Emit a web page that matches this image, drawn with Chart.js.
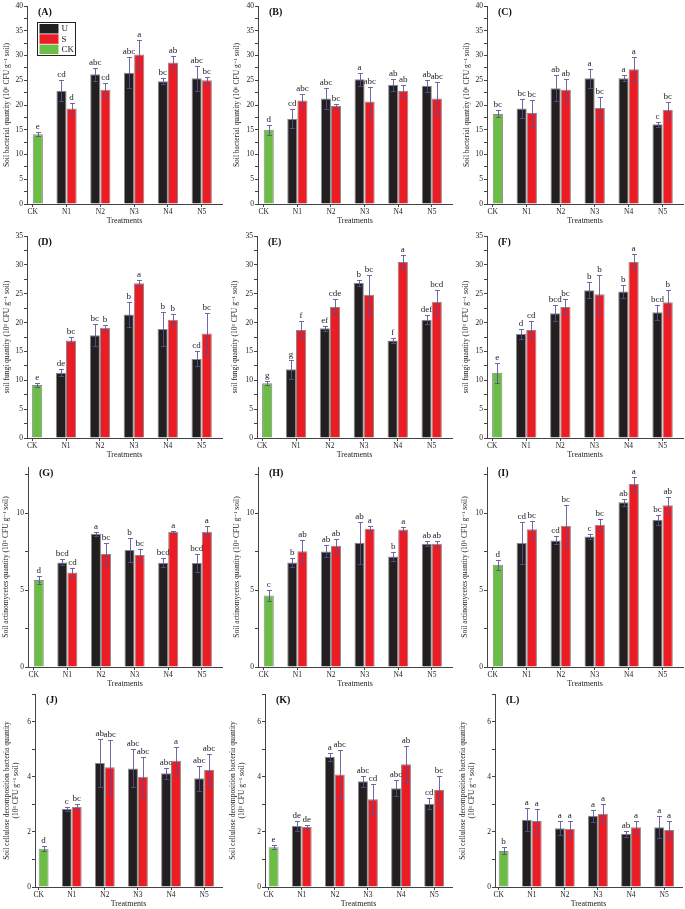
<!DOCTYPE html>
<html>
<head>
<meta charset="utf-8">
<script src="https://cdn.jsdelivr.net/npm/chart.js@4.4.0/dist/chart.umd.min.js"></script>
<style>
  body { margin: 0; background: #fff; width: 685px; height: 909px; position: relative; overflow: hidden; }
  canvas { position: absolute; }
</style>
</head>
<body>
<script>
const categories = ['CK', 'N1', 'N2', 'N3', 'N4', 'N5'];

// CK values for panels A..L
const ckValues  = [14.1, 15.0, 18.2, 9.2, 9.5, 11.3, 5.66, 4.65, 6.65, 1.39, 1.44, 1.31];
const ckErrors  = [0.4, 1.0, 0.7, 0.35, 0.4, 1.7, 0.28, 0.37, 0.33, 0.1, 0.07, 0.13];
const ckLetters = ['e', 'd', 'bc', 'e', 'g', 'e', 'd', 'c', 'd', 'd', 'e', 'b'];

// bacteria
const uA = [22.9, 26.2, 26.5, 24.8, 25.4], uAErr = [2.1, 1.3, 3.1, 0.6, 2.5], uALet = ['cd', 'abc', 'abc', 'bc', 'abc'];
const sA = [19.3, 23.1, 30.2, 28.6, 25.0], sAErr = [1.2, 1.3, 2.9, 1.2, 0.7], sALet = ['d', 'cd', 'a', 'ab', 'bc'];
const uB = [17.2, 21.3, 25.2, 24.1, 23.9], uBErr = [1.9, 2.1, 1.3, 1.2, 1.2], uBLet = ['cd', 'abc', 'a', 'ab', 'ab'];
const sB = [20.9, 19.8, 20.7, 22.9, 21.3], sBErr = [1.4, 0.5, 3.0, 1.2, 3.3], sBLet = ['abc', 'bc', 'abc', 'ab', 'abc'];
const uC = [19.3, 23.4, 25.4, 25.4, 16.1], uCErr = [1.9, 2.6, 1.9, 0.6, 0.5], uCLet = ['bc', 'ab', 'a', 'a', 'c'];
const sC = [18.4, 23.1, 19.4, 27.2, 19.0], sCErr = [2.6, 2.1, 2.2, 2.4, 1.6], sCLet = ['bc', 'ab', 'bc', 'a', 'bc'];
// fungi
const uD = [11.3, 17.8, 21.4, 18.9, 13.7], uDErr = [0.6, 1.9, 2.1, 3.0, 1.3], uDLet = ['de', 'bc', 'b', 'b', 'cd'];
const sD = [16.9, 19.1, 26.8, 20.5, 18.1], sDErr = [0.6, 0.4, 0.5, 0.9, 3.5], sDLet = ['bc', 'b', 'a', 'b', 'bc'];
const uE = [11.9, 19.0, 26.9, 16.9, 20.5], uEErr = [1.6, 0.4, 0.5, 0.5, 0.8], uELet = ['g', 'ef', 'b', 'f', 'def'];
const sE = [18.7, 22.7, 24.8, 30.5, 23.6], sEErr = [1.5, 1.3, 3.5, 1.2, 2.1], sELet = ['f', 'cde', 'bc', 'a', 'bcd'];
const uF = [18.0, 21.6, 25.6, 25.4, 21.8], uFErr = [0.9, 1.4, 1.4, 1.1, 1.3], uFLet = ['d', 'bcd', 'b', 'b', 'bcd'];
const sF = [18.7, 22.7, 24.9, 30.5, 23.5], sFErr = [1.5, 1.4, 3.4, 1.3, 2.1], sFLet = ['cd', 'bc', 'b', 'a', 'b'];
// actinomycetes
const uG = [6.8, 8.66, 7.6, 6.78, 6.76], uGErr = [0.2, 0.12, 0.8, 0.3, 0.58], uGLet = ['bcd', 'a', 'b', 'bcd', 'bcd'];
const sG = [6.15, 7.34, 7.28, 8.79, 8.79], sGErr = [0.3, 0.7, 0.4, 0.08, 0.35], sGLet = ['cd', 'bc', 'bc', 'a', 'a'];
const uH = [6.8, 7.51, 8.07, 7.19, 8.01], uHErr = [0.3, 0.39, 1.35, 0.28, 0.17], uHLet = ['b', 'ab', 'ab', 'b', 'ab'];
const sH = [7.53, 7.88, 8.98, 8.94, 8.01], sHErr = [0.74, 0.45, 0.18, 0.15, 0.2], sHLet = ['ab', 'ab', 'a', 'a', 'ab'];
const uI = [8.06, 8.23, 8.49, 10.71, 9.57], uIErr = [1.36, 0.26, 0.15, 0.22, 0.32], uILet = ['cd', 'cd', 'c', 'ab', 'bc'];
const sI = [8.96, 9.18, 9.24, 11.9, 10.52], sIErr = [0.56, 1.32, 0.37, 0.48, 0.5], sILet = ['bc', 'bc', 'bc', 'a', 'ab'];
// cellulose decomposition bacteria
const uJ = [2.83, 4.5, 4.3, 4.13, 3.94], uJErr = [0.06, 0.88, 0.69, 0.2, 0.46], uJLet = ['c', 'ab', 'abc', 'abc', 'abc'];
const sJ = [2.9, 4.34, 4.0, 4.58, 4.24], sJErr = [0.1, 1.0, 0.7, 0.5, 0.58], sJLet = ['bc', 'abc', 'abc', 'a', 'abc'];
const uK = [2.21, 4.72, 3.84, 3.58, 3.02], uKErr = [0.18, 0.15, 0.2, 0.29, 0.19], uKLet = ['de', 'a', 'abc', 'abc', 'cd'];
const sK = [2.18, 4.08, 3.18, 4.45, 3.52], sKErr = [0.06, 0.88, 0.57, 0.67, 0.5], sKLet = ['de', 'abc', 'cd', 'ab', 'bc'];
const uL = [2.44, 2.13, 2.58, 1.93, 2.17], uLErr = [0.41, 0.26, 0.23, 0.1, 0.4], uLLet = ['a', 'a', 'a', 'ab', 'a'];
const sL = [2.39, 2.11, 2.66, 2.17, 2.07], sLErr = [0.45, 0.28, 0.35, 0.22, 0.32], sLLet = ['a', 'a', 'a', 'a', 'a'];

const yMax   = [40, 35, 13, 7];
const yStep  = [2.5, 2.5, 2.5, 1];
const yMajor = [5, 5, 5, 2];
const yTitles = [
  'Soil bacterial quantity (10\u2076 CFU g\u207B\u00B9 soil)',
  'soil fungi quantity (10\u00B3 CFU g\u207B\u00B9 soil)',
  'Soil actinomycetes quantity (10\u2075 CFU g\u207B\u00B9 soil)',
  ['Soil cellulose decomposition bacteria quantity', '(10\u00B3 CFU g\u207B\u00B9 soil)']
];

const SERIF = '"Liberation Serif", "DejaVu Serif", serif';
Chart.defaults.font.family = SERIF;
Chart.defaults.color = '#222';

// layout of the 4 x 3 grid (page pixels)
const rowBox = [
  { T: 6,   B: 204, xMin: -0.17, xMax: 5.6 },
  { T: 236, B: 438, xMin: -0.15, xMax: 5.6 },
  { T: 467, B: 667, xMin: -0.17, xMax: 5.6 },
  { T: 694, B: 887, xMin: -0.11, xMax: 5.54 }
];

const panels = [
  { name: '(A)', row: 0, x0: 0,   L: 27,  R: 222, tc: 7,   u: uA, uErr: uAErr, uLet: uALet, s: sA, sErr: sAErr, sLet: sALet },
  { name: '(B)', row: 0, x0: 228, L: 258, R: 452, tc: 237, u: uB, uErr: uBErr, uLet: uBLet, s: sB, sErr: sBErr, sLet: sBLet },
  { name: '(C)', row: 0, x0: 457, L: 487, R: 683, tc: 467, u: uC, uErr: uCErr, uLet: uCLet, s: sC, sErr: sCErr, sLet: sCLet },
  { name: '(D)', row: 1, x0: 0,   L: 27,  R: 222, tc: 7,   u: uD, uErr: uDErr, uLet: uDLet, s: sD, sErr: sDErr, sLet: sDLet },
  { name: '(E)', row: 1, x0: 228, L: 257, R: 452, tc: 235, u: uE, uErr: uEErr, uLet: uELet, s: sE, sErr: sEErr, sLet: sELet },
  { name: '(F)', row: 1, x0: 457, L: 487, R: 683, tc: 466, u: uF, uErr: uFErr, uLet: uFLet, s: sF, sErr: sFErr, sLet: sFLet },
  { name: '(G)', row: 2, x0: 0,   L: 28,  R: 222, tc: 6,   u: uG, uErr: uGErr, uLet: uGLet, s: sG, sErr: sGErr, sLet: sGLet },
  { name: '(H)', row: 2, x0: 228, L: 258, R: 452, tc: 237, u: uH, uErr: uHErr, uLet: uHLet, s: sH, sErr: sHErr, sLet: sHLet },
  { name: '(I)', row: 2, x0: 457, L: 487, R: 683, tc: 465, u: uI, uErr: uIErr, uLet: uILet, s: sI, sErr: sIErr, sLet: sILet },
  { name: '(J)', row: 3, x0: 0,   L: 35,  R: 222, tc: 7,   u: uJ, uErr: uJErr, uLet: uJLet, s: sJ, sErr: sJErr, sLet: sJLet },
  { name: '(K)', row: 3, x0: 228, L: 265, R: 452, tc: 233, u: uK, uErr: uKErr, uLet: uKLet, s: sK, sErr: sKErr, sLet: sKLet },
  { name: '(L)', row: 3, x0: 457, L: 495, R: 682, tc: 463, u: uL, uErr: uLErr, uLet: uLLet, s: sL, sErr: sLErr, sLet: sLLet }
];

// error bars, significance letters, panel tag and the inset legend
const annotate = {
  id: 'annotate',
  afterDatasetsDraw(chart, args, opts) {
    const ctx = chart.ctx;
    const y = chart.scales.y;
    const ca = chart.chartArea;
    ctx.save();
    chart.data.datasets.forEach((ds, di) => {
      const meta = chart.getDatasetMeta(di);
      meta.data.forEach((bar, i) => {
        const v = ds.data[i].y, e = ds.errors[i];
        const top = Math.round(y.getPixelForValue(v + e)) + 0.5;
        const bot = Math.round(y.getPixelForValue(v - e)) + 0.5;
        const bx = Math.round(bar.x) + 0.5;
        ctx.strokeStyle = 'rgba(88, 80, 150, 0.85)';
        ctx.lineWidth = 1;
        ctx.beginPath();
        ctx.moveTo(bx, top); ctx.lineTo(bx, bot);
        ctx.moveTo(bx - 2.5, top); ctx.lineTo(bx + 2.5, top);
        ctx.moveTo(bx - 2.5, bot); ctx.lineTo(bx + 2.5, bot);
        ctx.stroke();
        ctx.fillStyle = '#222';
        ctx.font = '9px ' + SERIF;
        ctx.textAlign = 'center';
        ctx.textBaseline = 'bottom';
        ctx.fillText(ds.letters[i], bar.x, top - 1);
      });
    });

    ctx.fillStyle = '#111';
    ctx.font = 'bold 10px ' + SERIF;
    ctx.textAlign = 'left';
    ctx.textBaseline = 'middle';
    ctx.fillText(opts.label, ca.left + 11, ca.top + 6);

    if (opts.legend) {
      const lx = Math.round(ca.left + 10) + 0.5, ly = Math.round(ca.top + 16) + 0.5;
      ctx.strokeStyle = '#222';
      ctx.lineWidth = 1;
      ctx.strokeRect(lx, ly, 38, 33);
      chart.data.datasets.forEach((ds, i) => {
        const ry = ly + 1.5 + i * 10.3;
        ctx.fillStyle = ds.backgroundColor;
        ctx.fillRect(lx + 2, ry, 19, 9.5);
        ctx.fillStyle = '#222';
        ctx.font = '9px ' + SERIF;
        ctx.textAlign = 'left';
        ctx.textBaseline = 'middle';
        ctx.fillText(ds.label, lx + 24, ry + 5);
      });
    }
    ctx.restore();
  }
};

function isMajor(v, major) {
  const r = v / major;
  return Math.abs(r - Math.round(r)) < 1e-6;
}

panels.forEach((p, idx) => {
  const box = rowBox[p.row];
  const padTop = Math.min(10, box.T);
  const xh = 26;
  const w = p.R - p.x0 + 2;
  const h = box.B - box.T + padTop + xh;

  const canvas = document.createElement('canvas');
  canvas.width = w;
  canvas.height = h;
  canvas.style.left = p.x0 + 'px';
  canvas.style.top = (box.T - padTop) + 'px';
  document.body.appendChild(canvas);

  const barStyle = { borderColor: '#8a8a8a', borderWidth: 1, categoryPercentage: 0.6, barPercentage: 1 };

  new Chart(canvas.getContext('2d'), {
    type: 'bar',
    data: {
      datasets: [
        Object.assign({ label: 'U', stack: 'u', backgroundColor: '#231f20',
          data: p.u.map((v, i) => ({ x: i + 1, y: v })), errors: p.uErr, letters: p.uLet }, barStyle),
        Object.assign({ label: 'S', stack: 's', backgroundColor: '#ec1c24',
          data: p.s.map((v, i) => ({ x: i + 1, y: v })), errors: p.sErr, letters: p.sLet }, barStyle),
        Object.assign({ label: 'CK', stack: 's', backgroundColor: '#6cbd45',
          data: [{ x: 0, y: ckValues[idx] }], errors: [ckErrors[idx]], letters: [ckLetters[idx]] }, barStyle)
      ]
    },
    options: {
      responsive: false,
      animation: false,
      events: [],
      layout: { padding: { top: padTop, right: 2, left: 0, bottom: 0 } },
      plugins: {
        legend: { display: false },
        tooltip: { enabled: false },
        annotate: { label: p.name, legend: idx === 0 }
      },
      scales: {
        x: {
          type: 'linear',
          min: box.xMin,
          max: box.xMax,
          offset: false,
          grid: { offset: false, drawOnChartArea: false, tickLength: 3, color: '#444' },
          border: { color: '#444', width: 1 },
          ticks: {
            stepSize: 1, includeBounds: false, autoSkip: false, maxRotation: 0, padding: 1,
            font: { size: 7.5 },
            callback: (v) => (Number.isInteger(v) && categories[v]) ? categories[v] : ''
          },
          title: { display: true, text: 'Treatments', font: { size: 8 }, padding: { top: 0, bottom: 4 } },
          afterFit(scale) { scale.height = xh; }
        },
        y: {
          min: 0,
          max: yMax[p.row],
          grid: { drawOnChartArea: false, tickLength: 3, color: '#444' },
          border: { color: '#444', width: 1 },
          ticks: {
            stepSize: yStep[p.row], includeBounds: false, autoSkip: false, padding: 1,
            font: { size: 7.5 },
            callback: (v) => isMajor(v, yMajor[p.row]) ? String(v) : ''
          },
          title: {
            display: true, text: yTitles[p.row], font: { size: 7.5 },
            padding: { top: Math.max(0, p.tc - p.x0 - 4.5), bottom: 0 }
          },
          afterFit(scale) { scale.width = p.L - p.x0; }
        }
      }
    },
    plugins: [annotate]
  });
});
</script>
</body>
</html>
